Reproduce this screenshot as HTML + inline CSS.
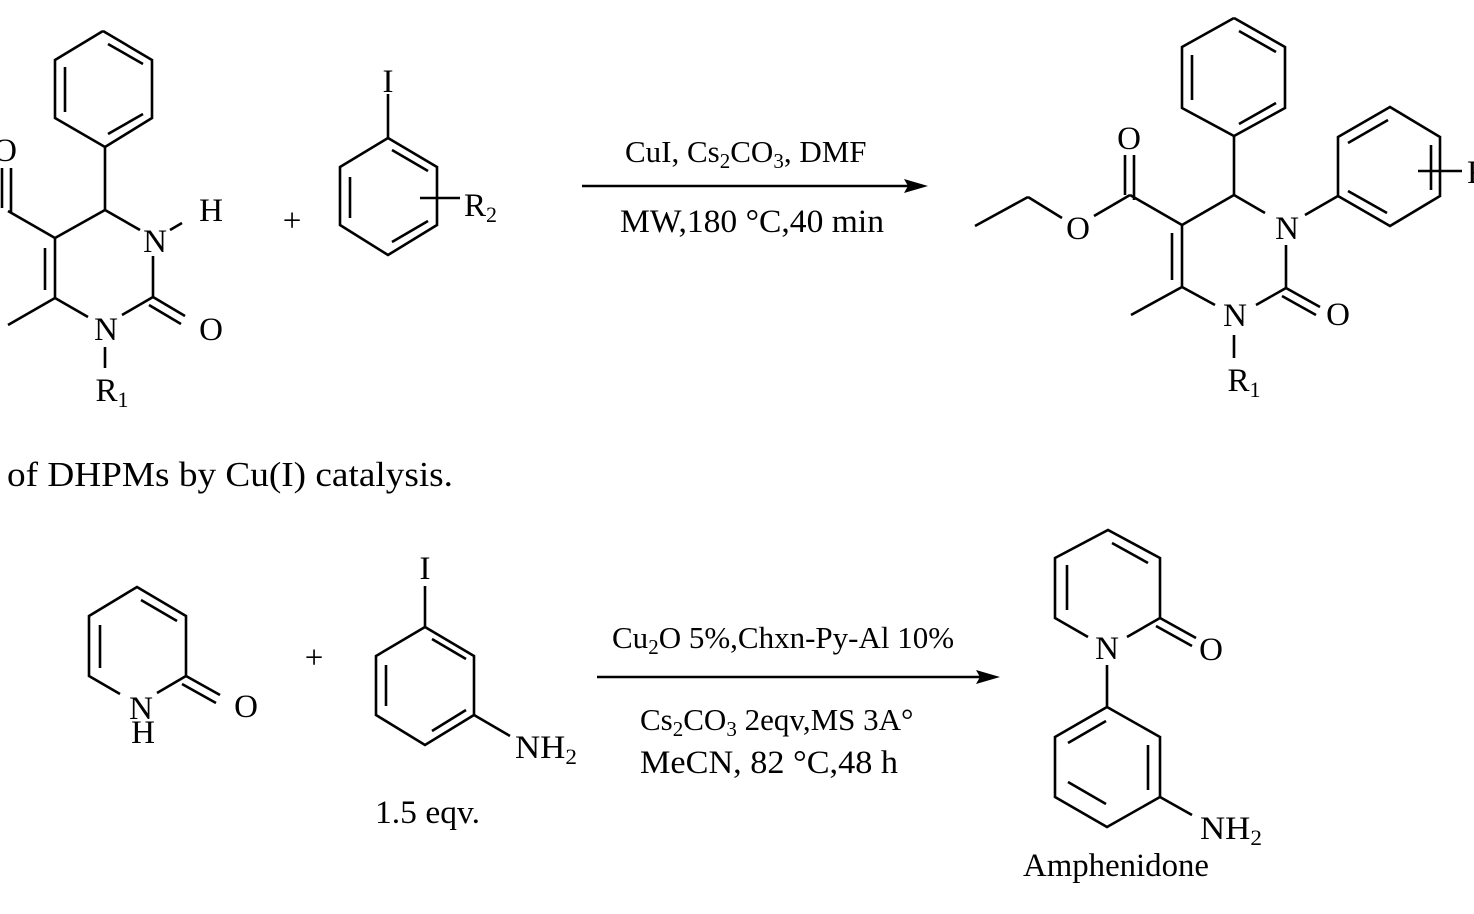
<!DOCTYPE html>
<html><head><meta charset="utf-8"><style>
html,body{margin:0;padding:0;background:#fff;}
svg{display:block;}
text{font-family:"Liberation Serif","Times New Roman",Times,serif;fill:#000;}
</style></head><body>
<svg width="1474" height="914" viewBox="0 0 1474 914" xmlns="http://www.w3.org/2000/svg">
<g stroke="#000" stroke-width="2.6" fill="none" stroke-linecap="butt">
<polyline points="103,31 152,60 152,118 105,147 55,118 55,60 103,31"/>
<line x1="65" y1="67" x2="65" y2="112"/>
<line x1="108" y1="44" x2="143" y2="64"/>
<line x1="143" y1="114" x2="108" y2="134"/>
<line x1="105" y1="147" x2="105" y2="210"/>
<line x1="105" y1="210" x2="55" y2="238"/>
<line x1="105" y1="210" x2="140" y2="230"/>
<line x1="170" y1="230" x2="182" y2="223"/>
<line x1="153" y1="256" x2="153" y2="297"/>
<line x1="153" y1="297" x2="122" y2="315"/>
<line x1="153" y1="297" x2="185" y2="316"/>
<line x1="149" y1="305" x2="181" y2="324"/>
<line x1="105" y1="347" x2="105" y2="368"/>
<line x1="55" y1="298" x2="88" y2="317"/>
<line x1="55" y1="238" x2="55" y2="298"/>
<line x1="45" y1="248" x2="45" y2="290"/>
<line x1="55" y1="298" x2="8" y2="325"/>
<line x1="55" y1="238" x2="8" y2="211"/>
<line x1="2" y1="168" x2="2" y2="208"/>
<line x1="11" y1="168" x2="11" y2="213"/>
<line x1="388" y1="94" x2="388" y2="138"/>
<polyline points="388,138 437,167 437,225 388,255 340,225 340,167 388,138"/>
<line x1="350" y1="177" x2="350" y2="218"/>
<line x1="392" y1="150" x2="428" y2="171"/>
<line x1="428" y1="221" x2="392" y2="242"/>
<line x1="420" y1="198" x2="460" y2="198"/>
<line x1="582" y1="186" x2="908" y2="186"/>
<polyline points="1234,18 1285,47 1285,108 1234,136 1182,108 1182,47 1234,18"/>
<line x1="1192" y1="55" x2="1192" y2="100"/>
<line x1="1239" y1="31" x2="1276" y2="52"/>
<line x1="1276" y1="103" x2="1239" y2="124"/>
<line x1="1234" y1="136" x2="1234" y2="195"/>
<line x1="1234" y1="195" x2="1265" y2="213"/>
<line x1="1286" y1="245" x2="1286" y2="288"/>
<line x1="1286" y1="288" x2="1256" y2="305"/>
<line x1="1286" y1="288" x2="1320" y2="307"/>
<line x1="1282" y1="296" x2="1316" y2="315"/>
<line x1="1234" y1="335" x2="1234" y2="358"/>
<line x1="1234" y1="195" x2="1182" y2="225"/>
<line x1="1182" y1="225" x2="1182" y2="287"/>
<line x1="1172" y1="233" x2="1172" y2="280"/>
<line x1="1182" y1="287" x2="1215" y2="305"/>
<line x1="1182" y1="287" x2="1131" y2="315"/>
<line x1="1182" y1="225" x2="1130" y2="195"/>
<line x1="1125" y1="155" x2="1125" y2="195"/>
<line x1="1134" y1="155" x2="1134" y2="200"/>
<line x1="1130" y1="195" x2="1094" y2="216"/>
<line x1="1062" y1="218" x2="1028" y2="197"/>
<line x1="1028" y1="197" x2="975" y2="226"/>
<line x1="1305" y1="215" x2="1338" y2="196"/>
<polyline points="1338,196 1390,226 1440,196 1440,137 1390,107 1338,137 1338,196"/>
<line x1="1348" y1="143" x2="1388" y2="120"/>
<line x1="1348" y1="191" x2="1387" y2="213"/>
<line x1="1431" y1="145" x2="1431" y2="190"/>
<line x1="1418" y1="171" x2="1462" y2="171"/>
<polyline points="120,694 89,676 89,616 137,587 186,616 186,676 157,693"/>
<line x1="100" y1="625" x2="100" y2="668"/>
<line x1="141" y1="600" x2="177" y2="621"/>
<line x1="186" y1="676" x2="220" y2="695"/>
<line x1="182" y1="684" x2="216" y2="703"/>
<line x1="425" y1="586" x2="425" y2="627"/>
<polyline points="425,627 474,656 474,715 425,745 376,715 376,656 425,627"/>
<line x1="386" y1="665" x2="386" y2="706"/>
<line x1="432" y1="639" x2="466" y2="659"/>
<line x1="466" y1="710" x2="432" y2="731"/>
<line x1="474" y1="715" x2="510" y2="736"/>
<line x1="597" y1="677" x2="980" y2="677"/>
<polyline points="1088,637 1055,618 1055,558 1108,530 1160,558 1160,618 1127,637"/>
<line x1="1067" y1="565" x2="1067" y2="610"/>
<line x1="1112" y1="543" x2="1148" y2="563"/>
<line x1="1160" y1="618" x2="1196" y2="638"/>
<line x1="1156" y1="626" x2="1192" y2="646"/>
<line x1="1107" y1="665" x2="1107" y2="707"/>
<polyline points="1107,707 1160,737 1160,797 1107,827 1055,797 1055,737 1107,707"/>
<line x1="1068" y1="743" x2="1106" y2="721"/>
<line x1="1148" y1="745" x2="1148" y2="790"/>
<line x1="1068" y1="782" x2="1106" y2="804"/>
<line x1="1160" y1="797" x2="1192" y2="815"/>
</g>
<polygon points="928,186 904,179 908,186 904,193" fill="#000"/>
<polygon points="1000,677 976,670 980,677 976,684" fill="#000"/>
<g font-size="33" text-anchor="middle">
<text x="5" y="161">O</text>
<text x="155" y="252">N</text>
<text x="211" y="221">H</text>
<text x="106" y="340">N</text>
<text x="211" y="340">O</text>
<text x="112" y="401">R<tspan font-size="22" dy="6">1</tspan></text>
<text x="292" y="231">+</text>
<text x="388" y="92">I</text>
<text x="1129" y="149">O</text>
<text x="1078" y="239">O</text>
<text x="1287" y="239">N</text>
<text x="1235" y="326">N</text>
<text x="1338" y="325">O</text>
<text x="1244" y="391">R<tspan font-size="22" dy="6">1</tspan></text>
<text x="1478" y="183">R</text>
<text x="141" y="719">N</text>
<text x="143" y="743">H</text>
<text x="246" y="717">O</text>
<text x="314" y="668">+</text>
<text x="425" y="579">I</text>
<text x="1107" y="659">N</text>
<text x="1211" y="660">O</text>
</g>
<g font-size="33">
<text x="464" y="216">R<tspan font-size="22" dy="6">2</tspan></text>
<text x="515" y="758" textLength="62" lengthAdjust="spacingAndGlyphs">NH<tspan font-size="22" dy="6">2</tspan></text>
<text x="1200" y="839" textLength="62" lengthAdjust="spacingAndGlyphs">NH<tspan font-size="22" dy="6">2</tspan></text>
<text x="1023" y="876" textLength="186" lengthAdjust="spacingAndGlyphs">Amphenidone</text>
<text x="375" y="823" textLength="105" lengthAdjust="spacingAndGlyphs">1.5 eqv.</text>
<text x="625" y="162" font-size="31">CuI, Cs<tspan font-size="21" dy="6">2</tspan><tspan dy="-6">CO</tspan><tspan font-size="21" dy="6">3</tspan><tspan dy="-6">, DMF</tspan></text>
<text x="620" y="232" textLength="264" lengthAdjust="spacingAndGlyphs">MW,180 °C,40 min</text>
<text x="612" y="648" font-size="31">Cu<tspan font-size="21" dy="6">2</tspan><tspan dy="-6">O 5%,Chxn-Py-Al 10%</tspan></text>
<text x="640" y="730" font-size="31">Cs<tspan font-size="21" dy="6">2</tspan><tspan dy="-6">CO</tspan><tspan font-size="21" dy="6">3</tspan><tspan dy="-6"> 2eqv,MS 3A°</tspan></text>
<text x="640" y="773" textLength="258" lengthAdjust="spacingAndGlyphs">MeCN, 82  °C,48 h</text>
</g>
<text x="7" y="486" font-size="35" textLength="446" lengthAdjust="spacingAndGlyphs">of DHPMs by Cu(I) catalysis.</text>
</svg>
</body></html>
